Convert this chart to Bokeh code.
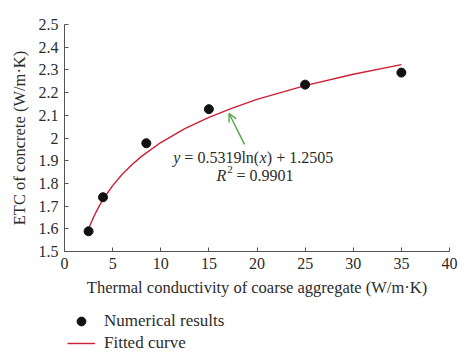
from bokeh.plotting import figure
from bokeh.layouts import column
from bokeh.models import Legend, LegendItem, Label, Arrow, OpenHead, FixedTicker, Range1d
from bokeh.embed import file_html
from bokeh.resources import INLINE

# ---- data ----
x_numerical = [2.5, 4.0, 8.5, 15.0, 25.0, 35.0]
y_numerical = [1.589, 1.739, 1.977, 2.127, 2.235, 2.288]
# fitted curve
x_fitted = [2.5, 3.0, 3.5, 4.0, 5.0, 6.0, 7.0, 8.0, 10.0, 12.5, 15.0, 17.5, 20.0, 25.0, 30.0, 35.0]
y_fitted = [1.600, 1.650, 1.692, 1.729, 1.790, 1.840, 1.882, 1.919, 1.980, 2.041, 2.091, 2.133, 2.170, 2.231, 2.281, 2.323]
x_ticks = [0, 5, 10, 15, 20, 25, 30, 35, 40]
y_ticks = [1.5, 1.6, 1.7, 1.8, 1.9, 2.0, 2.1, 2.2, 2.3, 2.4, 2.5]
y_tick_labels = ["1.5", "1.6", "1.7", "1.8", "1.9", "2", "2.1", "2.2", "2.3", "2.4", "2.5"]
legend_labels = ["Numerical results", "Fitted curve"]

FONT = "Liberation Serif"
TXT = "#2b2b2b"
RED = "#cc2035"
GREEN = "#52a447"
DOT = "#111111"

p = figure(width=474, height=307, output_backend="svg", toolbar_location=None,
           x_range=(0, 40), y_range=(1.5, 2.5),
           min_border_left=64, min_border_right=25, min_border_top=24,
           min_border_bottom=56)
p.outline_line_color = None
p.grid.visible = False

p.line(x_fitted, y_fitted, line_color=RED, line_width=1.4)
p.scatter(x_numerical, y_numerical, size=9, fill_color=DOT, line_color=DOT)

for ax in (p.xaxis[0], p.yaxis[0]):
    ax.axis_line_color = "#555555"
    ax.major_tick_line_color = "#555555"
    ax.major_tick_in = 4
    ax.major_tick_out = 0
    ax.minor_tick_line_color = None
    ax.major_label_text_font = FONT
    ax.major_label_text_font_size = "16px"
    ax.major_label_text_color = TXT
    ax.axis_label_text_font = FONT
    ax.axis_label_text_font_size = "16.5px"
    ax.axis_label_text_font_style = "normal"
    ax.axis_label_text_color = TXT
    ax.major_label_standoff = 6

p.xaxis[0].ticker = FixedTicker(ticks=x_ticks)
p.yaxis[0].ticker = FixedTicker(ticks=y_ticks)
p.yaxis[0].major_label_overrides = {t: l for t, l in zip(y_ticks, y_tick_labels)}
p.xaxis[0].axis_label = "Thermal conductivity of coarse aggregate (W/m\u00b7K)"
p.yaxis[0].axis_label = "ETC of concrete (W/m\u00b7K)"
p.xaxis[0].axis_label_standoff = 6
p.yaxis[0].axis_label_standoff = 7

# equation annotation
eq_x, eq_y = 11.3, 1.916
r_x, r_y = 15.8, 1.836
fs = "16px"
pieces_eq = [("y", "italic", 0), ("= 0.5319ln(", "normal", 11.1),
             ("x", "italic", 86.2), (") + 1.2505", "normal", 93.6)]
for t, st, off in pieces_eq:
    p.add_layout(Label(x=eq_x, y=eq_y, x_offset=off, text=t, text_font=FONT,
                       text_font_style=st, text_font_size=fs, text_color=TXT,
                       text_baseline="middle", text_align="left"))
p.add_layout(Label(x=r_x, y=r_y, x_offset=0, text="R", text_font=FONT,
                   text_font_style="italic", text_font_size=fs, text_color=TXT,
                   text_baseline="middle", text_align="left"))
p.add_layout(Label(x=r_x, y=r_y, x_offset=10.6, y_offset=6, text="2",
                   text_font=FONT, text_font_size="11px", text_color=TXT,
                   text_baseline="middle", text_align="left"))
p.add_layout(Label(x=r_x, y=r_y, x_offset=20.0, text="= 0.9901", text_font=FONT,
                   text_font_size=fs, text_color=TXT,
                   text_baseline="middle", text_align="left"))

p.add_layout(Arrow(x_start=18.7, y_start=1.972, x_end=17.1, y_end=2.108,
                   line_color=GREEN, line_width=1.4,
                   end=OpenHead(size=8, line_color=GREEN, line_width=1.4)))

# legend strip below the plot (its renderers lie outside its view range)
q = figure(width=474, height=57, output_backend="svg", toolbar_location=None,
           x_range=Range1d(0, 1), y_range=Range1d(0, 1),
           min_border_left=61, min_border_right=0, min_border_top=0,
           min_border_bottom=0)
q.axis.visible = False
q.grid.visible = False
q.outline_line_color = None
q_pts = q.scatter(x_numerical, y_numerical, size=9, fill_color=DOT, line_color=DOT)
q_line = q.line(x_fitted, y_fitted, line_color=RED, line_width=1.4)
legend = Legend(items=[LegendItem(label=legend_labels[0], renderers=[q_pts]),
                       LegendItem(label=legend_labels[1], renderers=[q_line])],
                location="top_left", orientation="vertical",
                border_line_color=None, background_fill_alpha=0,
                label_text_font=FONT, label_text_font_size="17px",
                label_text_color=TXT, glyph_width=28, glyph_height=22,
                label_height=22, label_standoff=9, spacing=0, padding=0, margin=3)
q.add_layout(legend)

open("out.html", "w").write(file_html(column(p, q, spacing=0), INLINE))
